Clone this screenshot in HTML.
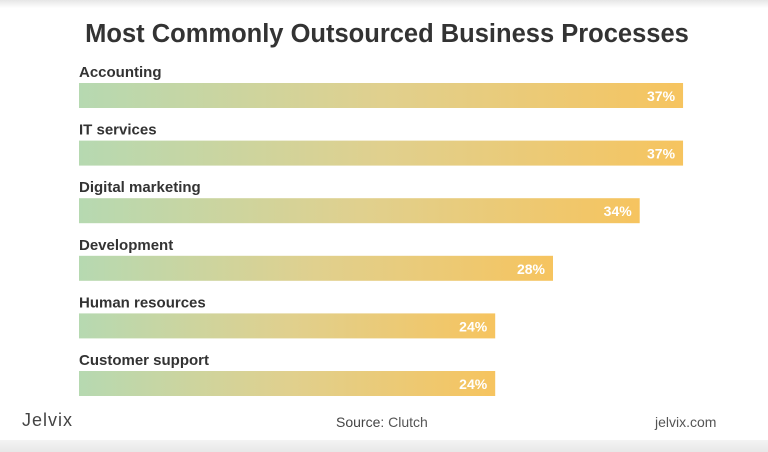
<!DOCTYPE html>
<html><head><meta charset="utf-8"><style>
html,body{margin:0;padding:0;background:#fff;}
body{width:768px;height:452px;position:relative;overflow:hidden;font-family:"Liberation Sans",sans-serif;}
.topshade{position:absolute;left:0;top:0;width:768px;height:8px;background:linear-gradient(#e6e6e6,#fff);}
.botshade{position:absolute;left:0;top:440px;width:768px;height:12px;background:linear-gradient(#f4f4f4,#e8e8e8);}
h1{position:absolute;left:3px;width:768px;top:20px;margin:0;text-align:center;font-size:25.5px;font-weight:bold;color:#333;}
.foot{position:absolute;top:414px;font-size:14px;color:#555;}
</style></head><body>
<div class="topshade"></div>
<h1>Most Commonly Outsourced Business Processes</h1>
<svg id="chart" width="768" height="452" style="position:absolute;left:0;top:0">
<defs><linearGradient id="g" x1="0" x2="1" y1="0" y2="0"><stop offset="0" stop-color="#b6d9b1"/><stop offset="0.5" stop-color="#e0d08e"/><stop offset="1" stop-color="#f6c45f"/></linearGradient></defs>
</svg>
<div class="foot" style="left:22px;font-size:18px;top:410px;letter-spacing:1px;color:#444">Jelvix</div>
<div class="foot" style="left:336px"><b style="font-weight:normal;color:#444">Source</b>: Clutch</div>
<div class="foot" style="left:655px">jelvix.com</div>
<div class="botshade"></div>
<script>
const categories=["Accounting","IT services","Digital marketing","Development","Human resources","Customer support"];
const values=[37,37,34,28,24,24];
const x0=79, base=148.4, pxPer=14.45;
function xScale(v){return base+v*pxPer;}
function yScale(i){return 83+i*57.6;}
const svg=document.getElementById('chart');
const NS="http://www.w3.org/2000/svg";
categories.forEach((c,i)=>{
  const y=yScale(i);
  const lab=document.createElementNS(NS,'text');
  
  
  lab.setAttribute('x',x0);lab.setAttribute('y',y-6);
  lab.setAttribute('font-size','15');lab.setAttribute('font-weight','bold');lab.setAttribute('fill','#333');
  lab.setAttribute('font-family','Liberation Sans, sans-serif');
  lab.textContent=c;svg.appendChild(lab);
  const r=document.createElementNS(NS,'rect');
  
  
  r.setAttribute('x',x0);r.setAttribute('y',y);r.setAttribute('width',xScale(values[i])-x0);r.setAttribute('height',25);
  r.setAttribute('fill','url(#g)');svg.appendChild(r);
  const t=document.createElementNS(NS,'text');
  
  
  t.setAttribute('x',xScale(values[i])-8);t.setAttribute('y',y+18);t.setAttribute('text-anchor','end');
  t.setAttribute('font-size','14');t.setAttribute('font-weight','bold');t.setAttribute('fill','#fff');
  t.setAttribute('font-family','Liberation Sans, sans-serif');
  t.textContent=values[i]+'%';svg.appendChild(t);
});
</script>
</body></html>
